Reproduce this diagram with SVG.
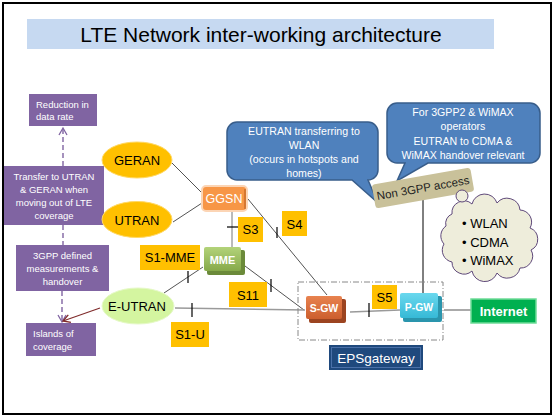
<svg xmlns="http://www.w3.org/2000/svg" width="555" height="419" viewBox="0 0 555 419">
<defs>
<style>
text{font-family:"Liberation Sans",Arial,sans-serif;}
.pbox{fill:#8064a2;}
.ptxt{fill:#fff;font-size:9.5px;}
.yl{fill:#ffc000;}
.ytxt{fill:#000;font-size:13px;text-anchor:middle;}
.ell{font-size:13px;text-anchor:middle;fill:#000;}
.wb{fill:#fff;font-weight:bold;text-anchor:middle;}
.ln{stroke:#404040;stroke-width:0.9;fill:none;}
.gl{stroke:#9a9a9a;stroke-width:1.6;fill:none;}
.tk{stroke:#000;stroke-width:1.2;}
.dash{stroke:#8064a2;stroke-width:1.4;stroke-dasharray:5 3;fill:none;}
.co{fill:#4f81bd;stroke:#385d8a;stroke-width:1.5;}
.ctxt{fill:#fff;font-size:10.6px;text-anchor:middle;}
</style>
<marker id="pa" markerWidth="10" markerHeight="10" refX="8" refY="5" orient="auto" markerUnits="userSpaceOnUse">
<path d="M1,1 L8,5 L1,9" fill="none" stroke="#8064a2" stroke-width="1.3"/>
</marker>
<marker id="ra" markerWidth="10" markerHeight="10" refX="8" refY="5" orient="auto" markerUnits="userSpaceOnUse">
<path d="M1,1 L8,5 L1,9" fill="none" stroke="#7f2a2a" stroke-width="1.3"/>
</marker>
<linearGradient id="gm" x1="0" y1="0" x2="0" y2="1"><stop offset="0" stop-color="#b3d37a"/><stop offset="1" stop-color="#86a94a"/></linearGradient>
<linearGradient id="gs" x1="0" y1="0" x2="0" y2="1"><stop offset="0" stop-color="#e8824f"/><stop offset="1" stop-color="#cc5f2e"/></linearGradient>
<linearGradient id="gp" x1="0" y1="0" x2="0" y2="1"><stop offset="0" stop-color="#6ad8ee"/><stop offset="1" stop-color="#36b9d6"/></linearGradient>
</defs>

<rect x="3" y="3" width="548" height="411" fill="#fff" stroke="#000" stroke-width="2"/>

<g id="title">
<rect x="27" y="19" width="467" height="30" fill="#c6d9f1"/>
<text x="261" y="42" font-size="21" text-anchor="middle" fill="#000">LTE Network inter-working architecture</text>
</g>

<g id="connectors">
<line class="ln" x1="172" y1="163" x2="201" y2="192"/>
<line class="ln" x1="173" y1="222" x2="202" y2="203"/>
<line x1="232" y1="211" x2="232" y2="247" stroke="#777" stroke-width="1"/>
<line class="tk" x1="227" y1="227" x2="238" y2="227"/>
<line class="ln" x1="248" y1="199" x2="327" y2="295"/>
<line class="tk" x1="277" y1="227" x2="277" y2="238"/>
<line class="ln" x1="164" y1="293" x2="203" y2="267"/>
<line class="tk" x1="188" y1="271" x2="188" y2="283"/>
<line class="ln" x1="245" y1="266" x2="304" y2="310"/>
<line class="tk" x1="271" y1="279" x2="271" y2="292"/>
<line class="gl" x1="175" y1="308" x2="305" y2="310"/>
<line class="tk" x1="192" y1="303" x2="192" y2="317"/>
<line class="gl" x1="350" y1="312" x2="400" y2="310"/>
<line class="tk" x1="369" y1="303" x2="369" y2="317"/>
<line x1="444" y1="310" x2="471" y2="310" stroke="#aaa" stroke-width="2"/>
<line x1="423" y1="199" x2="423" y2="293" stroke="#000" stroke-width="1"/>
<line class="dash" x1="63" y1="166" x2="63" y2="128" marker-end="url(#pa)"/>
<line class="dash" x1="63" y1="225" x2="63" y2="245"/>
<line class="dash" x1="62" y1="291" x2="62" y2="322" marker-end="url(#pa)"/>
<line x1="100" y1="308" x2="63" y2="321" stroke="#7f2a2a" stroke-width="1.1" marker-end="url(#ra)"/>
</g>

<g id="reduction">
<rect class="pbox" x="29" y="94" width="68" height="32"/>
<text class="ptxt" x="36" y="107.5">Reduction in</text>
<text class="ptxt" x="36" y="120">data rate</text>
</g>
<g id="transfer">
<rect class="pbox" x="4" y="166" width="100" height="59"/>
<text class="ptxt" text-anchor="middle" x="54" y="179.5">Transfer to UTRAN</text>
<text class="ptxt" text-anchor="middle" x="54" y="192.5">&amp; GERAN when</text>
<text class="ptxt" text-anchor="middle" x="54" y="205.5">moving out of LTE</text>
<text class="ptxt" text-anchor="middle" x="54" y="218.5">coverage</text>
</g>
<g id="measurements">
<rect class="pbox" x="16" y="245" width="93" height="46"/>
<text class="ptxt" text-anchor="middle" x="62.5" y="258.5">3GPP defined</text>
<text class="ptxt" text-anchor="middle" x="62.5" y="271.5">measurements &amp;</text>
<text class="ptxt" text-anchor="middle" x="62.5" y="284.5">handover</text>
</g>
<g id="islands">
<rect class="pbox" x="26" y="323" width="70" height="33"/>
<text class="ptxt" x="33" y="336.5">Islands of</text>
<text class="ptxt" x="33" y="350">coverage</text>
</g>

<g id="geran">
<ellipse cx="137" cy="160" rx="35" ry="18" fill="#ffc000" stroke="#ffd966" stroke-width="1"/>
<text class="ell" x="137" y="165">GERAN</text>
</g>
<g id="utran">
<ellipse cx="137" cy="219.5" rx="35" ry="18" fill="#ffc000" stroke="#ffd966" stroke-width="1"/>
<text class="ell" x="137" y="224.5">UTRAN</text>
</g>
<g id="eutran">
<ellipse cx="138" cy="306" rx="36" ry="18" fill="#d4f5a0" stroke="#e6f9c8" stroke-width="1"/>
<text class="ell" x="137" y="310.5">E-UTRAN</text>
</g>

<g id="ggsn">
<rect x="202" y="186" width="45" height="25" rx="4" fill="#f79646" stroke="#fcd5b5" stroke-width="2"/>
<line x1="245" y1="189" x2="245" y2="209" stroke="#b35a1e" stroke-width="1"/>
<text x="224" y="203" font-size="12.5" fill="#fff" text-anchor="middle">GGSN</text>
</g>
<g id="mme">
<rect x="207" y="250" width="38" height="25" rx="2" fill="#6b8a3a"/>
<rect x="204" y="247" width="37" height="24" rx="2" fill="url(#gm)"/>
<text class="wb" x="222.5" y="263.5" font-size="11">MME</text>
</g>
<g id="sgw">
<rect x="309" y="299" width="37" height="24" rx="2" fill="#9c4420"/>
<rect x="306" y="296" width="36" height="23" rx="2" fill="url(#gs)"/>
<text class="wb" x="324" y="312" font-size="10.5">S-GW</text>
</g>
<g id="pgw">
<rect x="403" y="296" width="39" height="26" rx="2" fill="#2a95ad"/>
<rect x="400" y="293" width="38" height="25" rx="2" fill="url(#gp)"/>
<text class="wb" x="419" y="310.5" font-size="10.5">P-GW</text>
</g>
<g id="internet">
<rect x="471" y="299" width="65" height="24" fill="#00b050" stroke="#6fdc98" stroke-width="1.5"/>
<text class="wb" x="503.5" y="315.5" font-size="13">Internet</text>
</g>

<g id="eps-gateway">
<rect x="298" y="282" width="145" height="58" fill="none" stroke="#888" stroke-width="1" stroke-dasharray="6 2 1 2"/>
<rect x="329" y="345" width="94" height="25" fill="#1f497d"/>
<rect x="331.5" y="347.5" width="89" height="20" fill="none" stroke="#4a70a8" stroke-width="1"/>
<text x="376" y="363" font-size="13.5" fill="#fff" text-anchor="middle">EPSgateway</text>
</g>

<g id="label-s3"><rect class="yl" x="238" y="217" width="25" height="25"/><text class="ytxt" x="250.5" y="233.5">S3</text></g>
<g id="label-s4"><rect class="yl" x="282" y="211" width="25" height="25"/><text class="ytxt" x="294.5" y="228.5">S4</text></g>
<g id="label-s1mme"><rect class="yl" x="140" y="245" width="60" height="25"/><text class="ytxt" x="170" y="262">S1-MME</text></g>
<g id="label-s11"><rect class="yl" x="229" y="282" width="38" height="25"/><text class="ytxt" x="248" y="299.5">S11</text></g>
<g id="label-s1u"><rect class="yl" x="171" y="322" width="38" height="25"/><text class="ytxt" x="190" y="339">S1-U</text></g>
<g id="label-s5"><rect class="yl" x="372" y="285" width="25" height="24"/><text class="ytxt" x="384.5" y="301.5" font-size="12">S5</text></g>

<g id="callout-wlan">
<path class="co" d="M237 122 H368 A10 10 0 0 1 378 132 V170 A10 10 0 0 1 368 180 L378 203 L352 180 H237 A10 10 0 0 1 227 170 V132 A10 10 0 0 1 237 122 Z"/>
<text class="ctxt" x="304" y="135">EUTRAN transferring to</text>
<text class="ctxt" x="304" y="148.5">WLAN</text>
<text class="ctxt" x="304" y="163">(occurs in hotspots and</text>
<text class="ctxt" x="304" y="177">homes)</text>
</g>

<g id="callout-3gpp2">
<path class="co" d="M397 103 H530 A10 10 0 0 1 540 113 V153 A10 10 0 0 1 530 163 H428 L397 181 L405 163 H397 A10 10 0 0 1 387 153 V113 A10 10 0 0 1 397 103 Z"/>
<text class="ctxt" x="463" y="116" font-size="11">For 3GPP2 &amp; WiMAX</text>
<text class="ctxt" x="463" y="130" font-size="11">operators</text>
<text class="ctxt" x="463" y="145" font-size="11">EUTRAN to CDMA &amp;</text>
<text class="ctxt" x="463" y="159" font-size="11">WiMAX handover relevant</text>
</g>

<g id="non3gpp" transform="rotate(-10 423 188)">
<rect x="373" y="176" width="100" height="24" rx="3" fill="#c9c19a"/>
<text x="423" y="192" font-size="11.5" fill="#222" text-anchor="middle">Non 3GPP access</text>
</g>

<g id="cloud">
<path d="M452 214 A12 12 0 0 1 472 204 A13 13 0 0 1 497 203 A13 13 0 0 1 520 210 A12 12 0 0 1 530 228 A12 12 0 0 1 531 250 A12 12 0 0 1 520 268 A13 13 0 0 1 497 273 A13 13 0 0 1 472 271 A12 12 0 0 1 452 262 A12 12 0 0 1 444 244 A12 12 0 0 1 446 226 A10 10 0 0 1 452 214 Z" fill="#eeeddb" stroke="#5f497a" stroke-width="1"/>
<circle cx="462" cy="196" r="6" fill="#eeeddb" stroke="#5f497a" stroke-width="1"/>
<text x="462" y="227.5" font-size="13" fill="#000">• WLAN</text>
<text x="462" y="246.5" font-size="13" fill="#000">• CDMA</text>
<text x="462" y="265" font-size="13" fill="#000">• WiMAX</text>
</g>
</svg>
